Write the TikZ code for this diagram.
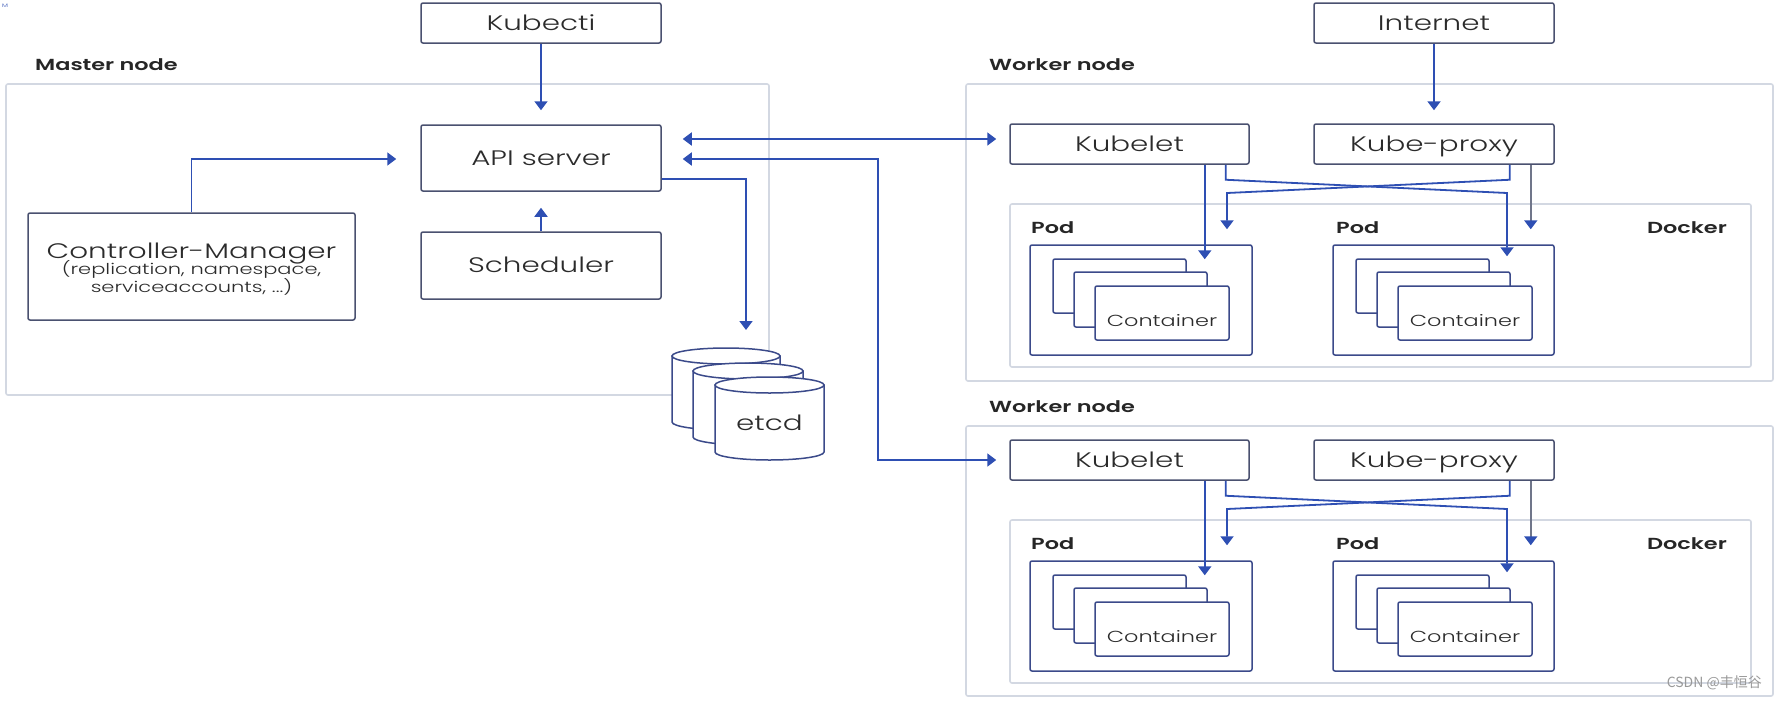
\documentclass[tikz,border=0pt]{standalone}
\usepackage{fontspec}
\setmainfont{Poppins Light}[FakeStretch=1.4, BoldFont={Poppins SemiBold}]
\newfontfamily\cjkfont{Noto Sans CJK SC}
\usetikzlibrary{arrows.meta,calc}
\definecolor{boxline}{HTML}{4A5170}
\definecolor{navy}{HTML}{3B4A8A}
\definecolor{arrowblue}{HTML}{2E4FB3}
\definecolor{outerc}{HTML}{D3D8E2}
\definecolor{txt}{HTML}{2B2B2B}
\definecolor{graya}{HTML}{70768A}
\tikzset{
  box/.style={draw=boxline, line width=1.5pt, rounded corners=2pt, inner sep=0pt, fill=white, text=txt,
    font=\fontsize{21}{24}\selectfont, text height=14.7pt, text depth=0pt},
  outerbox/.style={draw=outerc, line width=1.6pt, rounded corners=2pt, inner sep=0pt},
  podbox/.style={draw=navy, line width=1.5pt, rounded corners=2pt, fill=white, inner sep=0pt},
  lab/.style={font=\bfseries\fontsize{16}{19}\selectfont, text=black!85, anchor=west, inner sep=0pt,
    text height=11.2pt, text depth=0pt},
  ctext/.style={font=\fontsize{16}{19}\selectfont, text=txt, inner sep=0pt, text height=11.2pt, text depth=0pt},
  cylst/.style={draw=navy, line width=1.5pt, fill=white},
  arr/.style={draw=arrowblue, line width=1.8pt, -{Triangle[width=13pt,length=9pt]}},
  dbl/.style={draw=arrowblue, line width=1.8pt, {Triangle[width=13pt,length=9pt]}-{Triangle[width=13pt,length=9pt]}},
  arrgray/.style={draw=graya, line width=1.8pt, -{Triangle[width=13pt,length=9pt,color=arrowblue]}},
}
% cylinder: center x, x radius, top, bottom
\newcommand\dbcyl[4]{%
  \filldraw[cylst] (#1-#2,#3+8) -- (#1-#2,#4-8) arc[start angle=180,end angle=0,x radius=#2,y radius=8]
     -- (#1+#2,#3+8) -- cycle;
  \filldraw[cylst] (#1,#3+8) ellipse[x radius=#2, y radius=8];
}
% containers in a pod: id, pod left x, dy
\newcommand\podcont[3]{%
  \node[podbox, minimum width=133pt, minimum height=54pt] (ctb#1) at (#2+89.5,286+#3) {};
  \node[podbox, minimum width=133pt, minimum height=55pt] (ctm#1) at (#2+110.5,299.5+#3) {};
  \node[podbox, minimum width=134pt, minimum height=54pt] (ctf#1) at (#2+132,313+#3) {};
  \node[ctext] at ($(ctf#1.center)+(0,8)$) {Container};
}
% worker block: suffix, dy
\newcommand\wblock[2]{%
  \node[outerbox, minimum width=741pt, minimum height=163pt] (docker#1) at (1380.5,285.5+#2) {};
  \node[box, minimum width=239pt, minimum height=40pt] (kubelet#1) at (1129.5,144+#2) {Kubelet};
  \node[box, minimum width=240pt, minimum height=40pt] (proxy#1) at (1434,144+#2) {Kube-proxy};
  \node[lab] at (1031,228+#2) {Pod};
  \node[lab] at (1336,228+#2) {Pod};
  \node[lab, anchor=east] at (1727,228+#2) {Docker};
  \node[podbox, minimum width=222pt, minimum height=110pt] (poda#1) at (1141,300+#2) {};
  \node[podbox, minimum width=221pt, minimum height=110pt] (podb#1) at (1443.5,300+#2) {};
  \podcont{a#1}{1030}{#2}
  \podcont{b#1}{1333}{#2}
  \draw[arr] ($(kubelet#1.south east)+(-45,0)$) coordinate (ks#1) -- ($(ks#1 |- poda#1.north)+(0,15)$);
  \draw[arr] ($(kubelet#1.south east)+(-24,0)$) -- ++(0,15) -- (1507,193+#2) coordinate (kx#1) -- ($(kx#1 |- podb#1.north)+(0,12)$);
  \draw[arr] ($(proxy#1.south east)+(-45,0)$) -- ++(0,15) -- (1227,193+#2) coordinate (px#1) -- ($(px#1 |- poda#1.north)+(0,-15)$);
  \draw[arrgray] ($(proxy#1.south east)+(-24,0)$) coordinate (ps#1) -- ($(ps#1 |- podb#1.north)+(0,-15)$);
}
\begin{document}
\begin{tikzpicture}[x=1pt,y=-1pt]
\useasboundingbox (0,0) rectangle (1776,702);
\fill[white] (0,0) rectangle (1776,702);

% outer frames
\node[outerbox, minimum width=763pt, minimum height=311pt] (master) at (387.5,239.5) {};
\node[outerbox, minimum width=807pt, minimum height=297pt] (w1) at (1369.5,232.5) {};
\node[outerbox, minimum width=807pt, minimum height=270pt] (w2) at (1369.5,561) {};
\node[lab] at (35,65) {Master node};
\node[lab] at (989,65) {Worker node};
\node[lab] at (989,407) {Worker node};

% master components
\node[box, minimum width=240pt, minimum height=40pt] (kubectl) at (541,23) {Kubecti};
\node[box, minimum width=240pt, minimum height=40pt] (internet) at (1434,23) {Internet};
\node[box, minimum width=240pt, minimum height=66pt] (api) at (541,158) {API server};
\node[box, minimum width=240pt, minimum height=67pt] (sched) at (541,265.5) {Scheduler};
\node[box, minimum width=327pt, minimum height=107pt] (cm) at (191.5,266.5) {};
\node[anchor=base, inner sep=0pt, text=txt, font=\fontsize{21}{24}\selectfont] at ($(cm.center)+(0,-8.5)$) {Controller-Manager};
\node[anchor=base, inner sep=0pt, text=txt, font=\fontsize{15}{18}\selectfont] at ($(cm.center)+(0,7.5)$) {(replication, namespace,};
\node[anchor=base, inner sep=0pt, text=txt, font=\fontsize{15}{18}\selectfont] at ($(cm.center)+(0,25.5)$) {serviceaccounts, ...)};

% etcd
\dbcyl{726}{54}{348}{430}
\dbcyl{748}{55}{363}{445}
\dbcyl{769.5}{54.5}{377}{460}
\node[anchor=base, inner sep=0pt, text=txt, font=\fontsize{21}{24}\selectfont] (etcd) at (769.5,430) {etcd};
\coordinate (etcdtop) at (746,348);

% worker blocks
\wblock{1}{0}
\wblock{2}{316}

% master arrows
\draw[arr, shorten >=14pt] (kubectl.south) -- (api.north);
\draw[arr, shorten >=16pt] (sched.north) -- (api.south);
\draw[arr, shorten >=24pt] (cm.north) |- ($(api.west)+(0,1)$);
\draw[arr, shorten >=18pt] ($(api.east)+(0,21)$) -| (etcdtop);
\draw[arr, shorten >=13pt] (internet.south) -- (proxy1.north);
\draw[dbl, shorten <=21pt, shorten >=13pt] ($(api.east)+(0,-19)$) -- ($(kubelet1.west)+(0,-5)$);
\draw[dbl, shorten <=21pt, shorten >=13pt] ($(api.east)+(0,1)$) -- ++(216,0) |- (kubelet2.west);

% marks
\node[text=arrowblue, inner sep=0pt, font=\fontsize{5}{6}\selectfont] (tm) at (5,6) {M};
\node[anchor=east, inner sep=0pt, text=black!40, font=\cjkfont\fontsize{14}{16}\selectfont] (wm) at (1762,683) {CSDN @丰恒谷};
\end{tikzpicture}
\end{document}
